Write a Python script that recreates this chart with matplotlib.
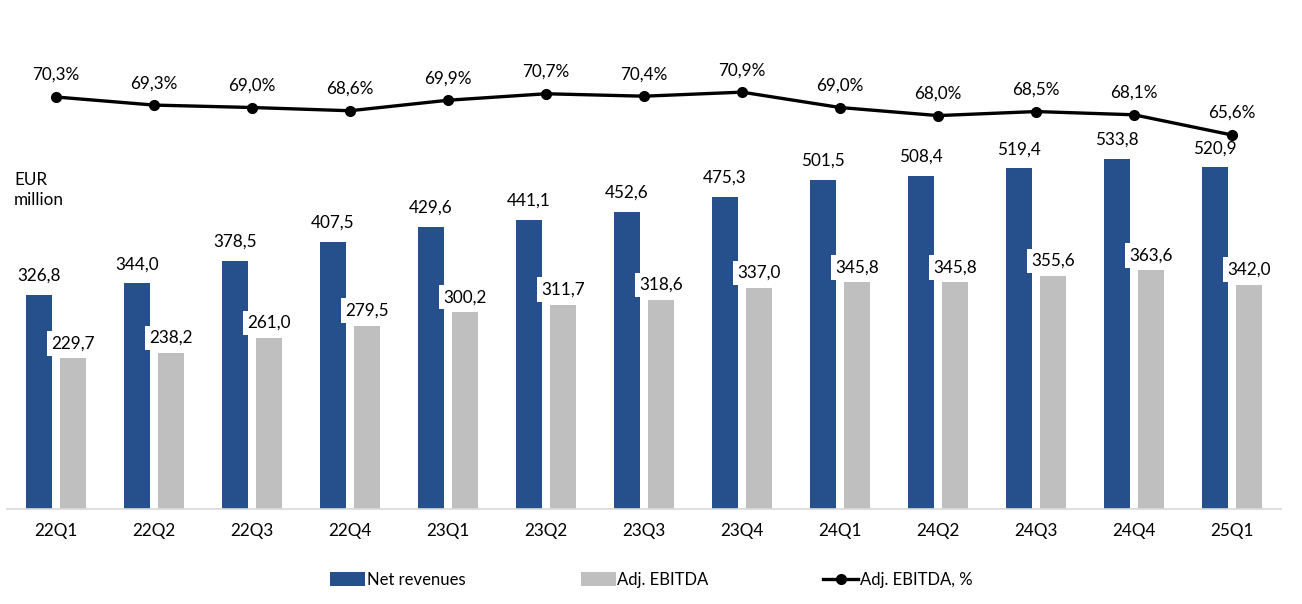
import matplotlib.pyplot as plt
import numpy as np

plt.rcParams['font.family'] = ['Lato', 'DejaVu Sans']

quarters = ['22Q1', '22Q2', '22Q3', '22Q4', '23Q1', '23Q2', '23Q3', '23Q4',
            '24Q1', '24Q2', '24Q3', '24Q4', '25Q1']
net_revenues = [326.8, 344.0, 378.5, 407.5, 429.6, 441.1, 452.6, 475.3,
                501.5, 508.4, 519.4, 533.8, 520.9]
adj_ebitda = [229.7, 238.2, 261.0, 279.5, 300.2, 311.7, 318.6, 337.0,
              345.8, 345.8, 355.6, 363.6, 342.0]
ebitda_margin = [70.3, 69.3, 69.0, 68.6, 69.9, 70.7, 70.4, 70.9,
                 69.0, 68.0, 68.5, 68.1, 65.6]

blue = '#25508C'
grey = '#BFBFBF'


def fmt(v, suffix=''):
    return f'{v:.1f}'.replace('.', ',') + suffix


fig = plt.figure(figsize=(13.02, 6.04), dpi=100)
W, H = 1302, 604
ax = fig.add_axes([7 / W, (H - 509) / H, 1274 / W, 469 / H])

x = np.arange(len(quarters))
bw = 0.265
off = 0.173
ax.bar(x - off, net_revenues, bw, color=blue, label='Net revenues', zorder=2)
ax.bar(x + off, adj_ebitda, bw, color=grey, label='Adj. EBITDA', zorder=2)

for xi, v in zip(x, net_revenues):
    ax.annotate(fmt(v), (xi - off, v), xytext=(0, 8), textcoords='offset points',
                ha='center', va='bottom', fontsize=12.3, zorder=4)
for xi, v in zip(x, adj_ebitda):
    ax.annotate(fmt(v), (xi + off, v), xytext=(0, 5), textcoords='offset points',
                ha='center', va='bottom', fontsize=12.3, zorder=4,
                bbox=dict(boxstyle='square,pad=0.25', fc='white', ec='none'))

ax.set_xlim(-0.5, len(quarters) - 0.5)
ax.set_ylim(0, 715)
ax.set_xticks(x)
ax.set_xticklabels(quarters, fontsize=12.3)
ax.tick_params(axis='x', length=0, pad=10)
ax.set_yticks([])
for s in ['top', 'left', 'right']:
    ax.spines[s].set_visible(False)
ax.spines['bottom'].set_color('#D9D9D9')
ax.spines['bottom'].set_linewidth(1.2)

ax2 = ax.twinx()
ax2.plot(x, ebitda_margin, color='black', lw=2.4, marker='o', ms=7,
         label='Adj. EBITDA, %', zorder=5)
for xi, v in zip(x, ebitda_margin):
    ax2.annotate(fmt(v, '%'), (xi, v), xytext=(0, 10), textcoords='offset points',
                 ha='center', va='bottom', fontsize=12.3)
ax2.set_ylim(19.34, 77.35)
ax2.set_yticks([])
for s in ax2.spines.values():
    s.set_visible(False)

fig.text(14 / W, 1 - 190 / H, 'EUR\nmillion', fontsize=12.3, ha='left', va='center',
         linespacing=1.3)

h1, l1 = ax.get_legend_handles_labels()
h2, l2 = ax2.get_legend_handles_labels()
fig.legend(h1 + h2, l1 + l2, loc='center', bbox_to_anchor=(651.5 / W, 1 - 580 / H),
           ncol=3, frameon=False, fontsize=12, handlelength=2.1,
           handleheight=0.9, handletextpad=0.1, columnspacing=6.9)

fig.savefig('out.png', dpi=100)
